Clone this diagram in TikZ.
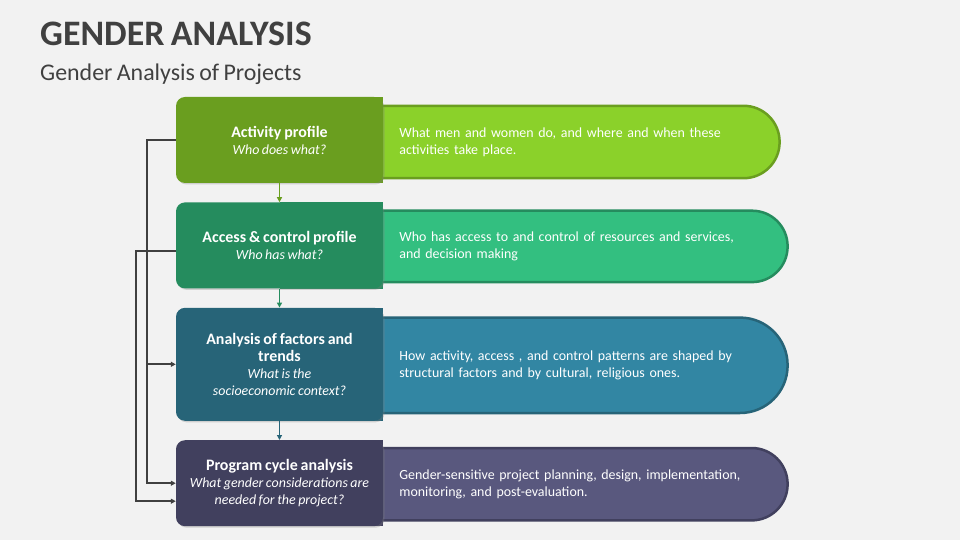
\documentclass[tikz,border=0pt]{standalone}
\usepackage{fontspec}
\setmainfont{Carlito}[WordSpace=0.8]
\usetikzlibrary{arrows.meta,positioning,shadows,backgrounds}

\definecolor{textgray}{HTML}{404040}
\definecolor{slidebg}{HTML}{F2F2F2}
\definecolor{actdark}{HTML}{6A9E1F}
\definecolor{actlight}{HTML}{8BD12A}
\definecolor{accdark}{HTML}{258C5E}
\definecolor{acclight}{HTML}{33BF80}
\definecolor{facdark}{HTML}{276478}
\definecolor{faclight}{HTML}{3286A3}
\definecolor{progdark}{HTML}{41405E}
\definecolor{proglight}{HTML}{59587E}

\newcommand{\stagehead}[1]{{\fontsize{16}{19}\selectfont\bfseries #1}}

\tikzset{
	stage/.style={fill=#1, text=white, rounded corners=9bp, minimum width=207bp, minimum height=86bp, align=center, font=\fontsize{14}{17}\selectfont, drop shadow={opacity=0.3, shadow xshift=1.5bp, shadow yshift=-1.5bp}},
	detail/.style={text=white, align=left, inner xsep=18bp, inner ysep=0pt, font=\fontsize{14}{17}\selectfont},
	feed/.style={draw=textgray, line width=1.8bp, -{Triangle[length=5bp,width=5bp]}},
	flow/.style={draw=#1, line width=1.5bp, -{Triangle[length=5bp,width=5bp]}},
}

\begin{document}
\begin{tikzpicture}[x=1bp,y=-1bp,node distance=19bp]
	\useasboundingbox (0,0) rectangle (960,540);

	\node[anchor=base west, inner sep=0pt, text=textgray, font=\bfseries\fontsize{36}{42}\selectfont] (title) at (40,45.5) {GENDER ANALYSIS};
	\node[anchor=base west, inner sep=0pt, text=textgray, font=\fontsize{24}{28}\selectfont] (subtitle) at (40,80.5) {Gender Analysis of Projects};

	% left boxes
	\node[stage=actdark] (b1) at (279.5,140) {\stagehead{Activity profile}\\\textit{Who does what?}};
	\node[stage=accdark, below=of b1] (b2) {\stagehead{Access \& control profile}\\\textit{Who has what?}};
	\node[stage=facdark, below=of b2, minimum height=113bp] (b3) {\stagehead{Analysis of factors and}\\\stagehead{trends}\\\textit{What is the}\\\textit{socioeconomic context?}};
	\node[stage=progdark, below=of b3] (b4) {\stagehead{Program cycle analysis}\\\textit{What gender considerations are}\\\textit{needed for the project?}};

	% texts of the right pills
	\node[detail, text width=362bp, minimum height=72bp, right=-2bp of b1, yshift=-2bp] (d1) {What men and women do, and where and when these\\activities take place.};
	\node[detail, text width=370bp, minimum height=71bp, right=-2bp of b2, yshift=-1bp] (d2) {Who has access to and control of resources and services,\\and decision making};
	\node[detail, text width=370bp, minimum height=95bp, right=-2bp of b3, yshift=-1bp] (d3) {How activity, access , and control patterns are shaped by\\structural factors and by cultural, religious ones.};
	\node[detail, text width=370bp, minimum height=72bp, right=-2bp of b4, yshift=-1bp] (d4) {Gender-sensitive project planning, design, implementation,\\monitoring, and post-evaluation.};

	\begin{scope}[on background layer]
		\fill[slidebg] (0,0) rectangle (960,540);
		% pill shapes
		\foreach \d/\b/\l/\k/\r in {d1/b1/actlight/actdark/36,d2/b2/acclight/accdark/35.5,d3/b3/faclight/facdark/47.5,d4/b4/proglight/progdark/36}
			\filldraw[fill=\l, draw=\k, line width=2.5bp, rounded corners=\r bp] (\b.center |- \d.north) rectangle (\d.south east);
		% square right corners of the boxes
		\foreach \b/\c in {b1/actdark,b2/accdark,b3/facdark,b4/progdark}
			\fill[\c] (\b.north) rectangle (\b.south east);
	\end{scope}

	% arrows down the column
	\draw[flow=actdark] (b1) -- (b2);
	\draw[flow=accdark] (b2) -- (b3);
	\draw[flow=facdark] (b3) -- (b4);

	% feedback lines on the left
	\draw[feed] (b1.west) -- ++(-29,0) coordinate (j1) |- (b4.west);
	\draw[feed] (j1 |- b3.west) -- (b3.west);
	\draw[feed] ([yshift=-5.5bp]b2.west) -- ++(-40,0) |- ([yshift=-18bp]b4.west);
\end{tikzpicture}
\end{document}
